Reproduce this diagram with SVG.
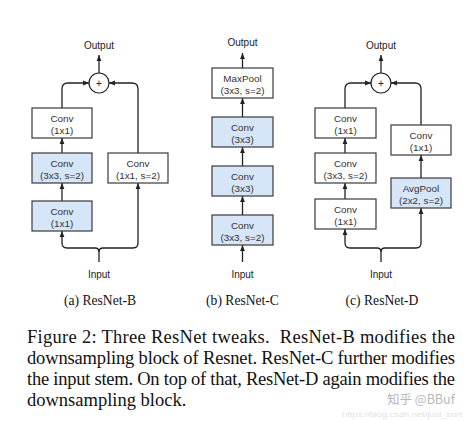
<svg xmlns="http://www.w3.org/2000/svg" width="474" height="421" viewBox="0 0 474 421">
<defs>
<style>
.box{fill:#ffffff;stroke:#3a3a3a;stroke-width:1.2}
.blue{fill:#d6e6f8}
.t{font-family:"Liberation Sans",Arial,sans-serif;font-size:9.9px;fill:#333;text-anchor:middle}
.lbl{font-family:"Liberation Sans",Arial,sans-serif;font-size:10px;fill:#222;text-anchor:middle}
.sub{font-family:"Liberation Serif","Times New Roman",serif;font-size:13.6px;fill:#111;text-anchor:middle}
.cap{font-family:"Liberation Serif","Times New Roman",serif;font-size:18.5px;fill:#111}
.ln{fill:none;stroke:#222;stroke-width:1.3}
.plus{fill:#fff;stroke:#222;stroke-width:1.2}
</style>
<marker id="ah" markerWidth="6" markerHeight="6" viewBox="0 0 6 6" refX="6" refY="3" orient="auto" markerUnits="userSpaceOnUse">
<path d="M0,0.6 L6,3 L0,5.4 Z" fill="#222"/>
</marker>
</defs>
<rect width="474" height="421" fill="#ffffff"/>

<g id="connectors">
<!-- A -->
<path class="ln" d="M99,73 V55" marker-end="url(#ah)"/>
<path class="ln" d="M62,108 V89 Q62,83 68,83 H89" marker-end="url(#ah)"/>
<path class="ln" d="M138,153 V89 Q138,83 132,83 H109" marker-end="url(#ah)"/>
<path class="ln" d="M62,153 V138" marker-end="url(#ah)"/>
<path class="ln" d="M62,201 V183" marker-end="url(#ah)"/>
<path class="ln" d="M99,262 V252 Q99,248 95,248 H67 Q62,248 62,243 V231" marker-end="url(#ah)"/>
<path class="ln" d="M99,252 Q99,248 103,248 H133 Q138,248 138,243 V183" marker-end="url(#ah)"/>
<!-- C -->
<path class="ln" d="M242.5,68 V53" marker-end="url(#ah)"/>
<path class="ln" d="M242.5,117 V98" marker-end="url(#ah)"/>
<path class="ln" d="M242.5,166 V147" marker-end="url(#ah)"/>
<path class="ln" d="M242.5,215 V196" marker-end="url(#ah)"/>
<path class="ln" d="M242.5,262 V245" marker-end="url(#ah)"/>
<!-- D -->
<path class="ln" d="M381,73 V55" marker-end="url(#ah)"/>
<path class="ln" d="M345,108 V89 Q345,83 351,83 H371" marker-end="url(#ah)"/>
<path class="ln" d="M421,125 V89 Q421,83 415,83 H391" marker-end="url(#ah)"/>
<path class="ln" d="M345,153 V138" marker-end="url(#ah)"/>
<path class="ln" d="M345,199 V183" marker-end="url(#ah)"/>
<path class="ln" d="M421,178 V155" marker-end="url(#ah)"/>
<path class="ln" d="M381,262 V252 Q381,248 377,248 H350 Q345,248 345,243 V229" marker-end="url(#ah)"/>
<path class="ln" d="M381,252 Q381,248 385,248 H416 Q421,248 421,243 V208" marker-end="url(#ah)"/>
</g>

<!-- (a) ResNet-B -->
<g id="a-output"><text class="lbl" x="99" y="48.5">Output</text></g>
<g id="a-add"><circle class="plus" cx="99" cy="83" r="10"/><text class="lbl" x="99" y="86.5">+</text></g>
<g id="a-conv3"><rect class="box" x="32" y="108" width="60" height="30"/><text class="t" x="62" y="121.5">Conv</text><text class="t" x="62" y="133.5">(1x1)</text></g>
<g id="a-conv2"><rect class="box blue" x="32" y="153" width="60" height="30"/><text class="t" x="62" y="166.5">Conv</text><text class="t" x="62" y="178.5">(3x3, s=2)</text></g>
<g id="a-conv1"><rect class="box blue" x="32" y="201" width="60" height="30"/><text class="t" x="62" y="214.5">Conv</text><text class="t" x="62" y="226.5">(1x1)</text></g>
<g id="a-shortcut"><rect class="box" x="108" y="153" width="60" height="30"/><text class="t" x="138" y="166.5">Conv</text><text class="t" x="138" y="178.5">(1x1, s=2)</text></g>
<g id="a-input"><text class="lbl" x="99" y="278">Input</text></g>
<g id="a-title"><text class="sub" x="100" y="305">(a) ResNet-B</text></g>

<!-- (b) ResNet-C -->
<g id="c-output"><text class="lbl" x="242.5" y="45.5">Output</text></g>
<g id="c-maxpool"><rect class="box" x="212" y="68" width="61" height="30"/><text class="t" x="242.5" y="81.5">MaxPool</text><text class="t" x="242.5" y="93.5">(3x3, s=2)</text></g>
<g id="c-conv3"><rect class="box blue" x="212" y="117" width="61" height="30"/><text class="t" x="242.5" y="130.5">Conv</text><text class="t" x="242.5" y="142.5">(3x3)</text></g>
<g id="c-conv2"><rect class="box blue" x="212" y="166" width="61" height="30"/><text class="t" x="242.5" y="179.5">Conv</text><text class="t" x="242.5" y="191.5">(3x3)</text></g>
<g id="c-conv1"><rect class="box blue" x="212" y="215" width="61" height="30"/><text class="t" x="242.5" y="228.5">Conv</text><text class="t" x="242.5" y="240.5">(3x3, s=2)</text></g>
<g id="c-input"><text class="lbl" x="242.5" y="278">Input</text></g>
<g id="c-title"><text class="sub" x="242.5" y="305">(b) ResNet-C</text></g>

<!-- (c) ResNet-D -->
<g id="d-output"><text class="lbl" x="381" y="48.5">Output</text></g>
<g id="d-add"><circle class="plus" cx="381" cy="83" r="10"/><text class="lbl" x="381" y="86.5">+</text></g>
<g id="d-conv3"><rect class="box" x="315" y="108" width="61" height="30"/><text class="t" x="345.5" y="121.5">Conv</text><text class="t" x="345.5" y="133.5">(1x1)</text></g>
<g id="d-conv2"><rect class="box" x="315" y="153" width="61" height="30"/><text class="t" x="345.5" y="166.5">Conv</text><text class="t" x="345.5" y="178.5">(3x3, s=2)</text></g>
<g id="d-conv1"><rect class="box" x="315" y="199" width="61" height="30"/><text class="t" x="345.5" y="212.5">Conv</text><text class="t" x="345.5" y="224.5">(1x1)</text></g>
<g id="d-shortconv"><rect class="box" x="391" y="125" width="60" height="30"/><text class="t" x="421" y="138.5">Conv</text><text class="t" x="421" y="150.5">(1x1)</text></g>
<g id="d-avgpool"><rect class="box blue" x="391" y="178" width="60" height="30"/><text class="t" x="421" y="191.5">AvgPool</text><text class="t" x="421" y="203.5">(2x2, s=2)</text></g>
<g id="d-input"><text class="lbl" x="381" y="278">Input</text></g>
<g id="d-title"><text class="sub" x="382" y="305">(c) ResNet-D</text></g>

<g id="caption">
<text class="cap" x="27" y="343" textLength="428" lengthAdjust="spacing">Figure 2: Three ResNet tweaks.&#160; ResNet-B modifies the</text>
<text class="cap" x="27" y="364" textLength="428" lengthAdjust="spacing">downsampling block of Resnet. ResNet-C further modifies</text>
<text class="cap" x="27" y="385" textLength="428" lengthAdjust="spacing">the input stem. On top of that, ResNet-D again modifies the</text>
<text class="cap" x="27" y="406">downsampling block.</text>
</g>

<g id="watermark">
<text x="387" y="403.5" font-family="'Noto Sans CJK SC','Liberation Sans',sans-serif" font-size="12.5px" fill="#b8b8b8">知乎 @BBuf</text>
<text x="342" y="417" font-family="'Liberation Sans',Arial,sans-serif" font-size="8px" fill="#e2e2e2" textLength="120" lengthAdjust="spacingAndGlyphs">https://blog.csdn.net/just_sort</text>
</g>
</svg>
